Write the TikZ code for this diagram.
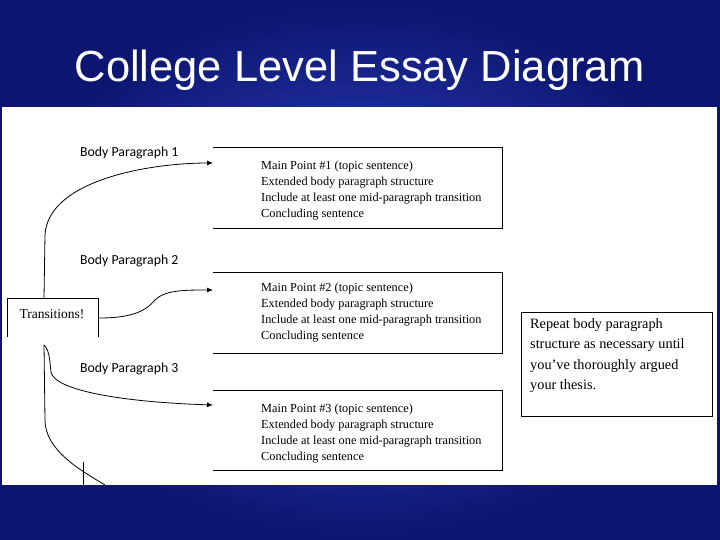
\documentclass[tikz,border=0pt]{standalone}
\usepackage{fontspec}
\setmainfont{Liberation Serif}
\newfontfamily\titlefont{Liberation Sans}
\newfontfamily\labfont{Carlito}
\usetikzlibrary{arrows.meta}
\definecolor{bgout}{HTML}{0C1670}
\definecolor{bgin}{HTML}{3148CC}
\tikzset{
  conn/.style={line width=0.8pt,-{Latex[length=6pt,width=5pt]}},
  plain/.style={line width=0.8pt},
  plabel/.style={font=\labfont\fontsize{13.8}{13.8}\selectfont,anchor=west,inner sep=0pt},
  btext/.style={font=\fontsize{12.3}{16}\selectfont,anchor=north west,align=left,inner sep=0pt},
  rtext/.style={font=\fontsize{14.3}{20.5}\selectfont,anchor=north west,align=left,inner sep=0pt}
}
\begin{document}
\begin{tikzpicture}[x=1pt,y=-1pt]
\useasboundingbox (0,0) rectangle (720,540);
\shade[inner color=bgin,outer color=bgout] (0,0) rectangle (720,540);
\node[font=\titlefont\fontsize{43.5}{43.5}\selectfont,text=white] (title) at (360,70) {College Level Essay Diagram};
\fill[white] (2,107) rectangle (717,485);
% content boxes (left side open)
\draw[plain] (213,147) -- (502,147) -- (502,228) -- (213,228);
\draw[plain] (213,272) -- (502,272) -- (502,353) -- (213,353);
\draw[plain] (213,390) -- (502,390) -- (502,470) -- (213,470);
\coordinate (b1) at (213,163);
\coordinate (b2) at (213,290);
\coordinate (b3) at (213,405);
\node[btext] (t1) at (261,161) {Main Point \#1 (topic sentence)\\Extended body paragraph structure\\Include at least one mid-paragraph transition\\Concluding sentence};
\node[btext] (t2) at (261,283) {Main Point \#2 (topic sentence)\\Extended body paragraph structure\\Include at least one mid-paragraph transition\\Concluding sentence};
\node[btext] (t3) at (261,404) {Main Point \#3 (topic sentence)\\Extended body paragraph structure\\Include at least one mid-paragraph transition\\Concluding sentence};
\node[plabel] (l1) at (80,153) {Body Paragraph 1};
\node[plabel] (l2) at (80,261) {Body Paragraph 2};
\node[plabel] (l3) at (80,369) {Body Paragraph 3};
% repeat box
\draw[plain] (521,312) rectangle (712,416);
\node[rtext] (rep) at (530,318) {Repeat body paragraph\\structure as necessary until\\you've thoroughly argued\\your thesis.};
% transitions box (bottom open)
\draw[plain] (7,337) -- (7,298) -- (98,298) -- (98,337);
\node[font=\fontsize{13.5}{13.5}\selectfont] (tr) at (52,314) {Transitions!};
\coordinate (s1) at (44,298);
\coordinate (s2) at (99,318);
\coordinate (s3) at (44,345);
\coordinate (e4) at (105,485);
\coordinate (k1) at (83,462);
\coordinate (k2) at (83,485);
\draw[conn] (s1) -- (45,235) .. controls (48,180) and (150,163) .. (b1);
\draw[conn] (s2) .. controls (130,318) and (145,312) .. (155,300) .. controls (165,290) and (185,290) .. (b2);
\draw[conn] (s3) .. controls (50,350) and (50,365) .. (51,372) .. controls (54,390) and (120,402) .. (b3);
\draw[plain] (s3) -- (45,420) .. controls (45,450) and (80,470) .. (e4);
\draw[plain] (k1) -- (k2);
\end{tikzpicture}
\end{document}
